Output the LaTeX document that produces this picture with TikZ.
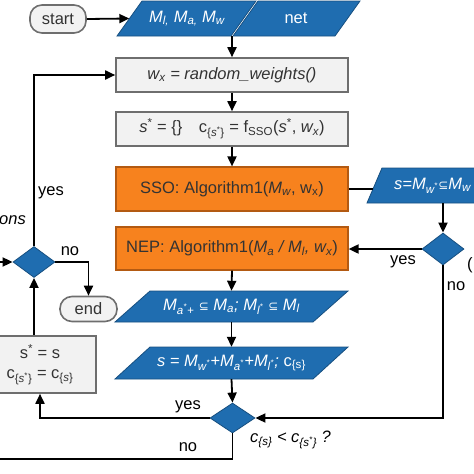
\documentclass[tikz,border=0pt]{standalone}
\usepackage{fontspec}
\setmainfont{Liberation Sans}
\newfontfamily\symf{DejaVu Sans}
\usetikzlibrary{arrows.meta,shapes.geometric}
\definecolor{blu}{HTML}{1F6DB0}
\definecolor{bluD}{HTML}{174F80}
\definecolor{org}{HTML}{F7821E}
\definecolor{orgD}{HTML}{B35A12}
\definecolor{gfill}{HTML}{F2F2F2}
\definecolor{gline}{HTML}{6E6E6E}
\definecolor{txt}{HTML}{333333}
\newcommand\sbx[1]{\textsubscript{#1}}
\newcommand\spx[1]{\textsuperscript{#1}}
\newcommand\subeq{{\symf\fontsize{12}{14}\selectfont ⊆}}
\tikzset{
  graybox/.style={rectangle, draw=gline, fill=gfill, line width=1.6pt, text=txt, inner sep=0pt},
  orangebox/.style={rectangle, draw=orgD, fill=org, line width=1.2pt, text=txt, inner sep=0pt},
  pill/.style={rectangle, rounded corners=12pt, draw=gline, fill=gfill, line width=1.6pt, text=txt, inner sep=0pt},
  pshape/.style={fill=blu, draw=bluD, line width=0.8pt},
  ptext/.style={rectangle, text=white, inner sep=0pt},
  dia/.style={diamond, fill=blu, draw=bluD, line width=0.8pt, inner sep=0pt},
  lbl/.style={text=black, inner sep=0pt},
  arr/.style={line width=1.8pt, -{Triangle[length=10pt,width=9pt]}},
  ln/.style={line width=1.8pt},
}
\begin{document}
\begin{tikzpicture}[x=1pt,y=-1pt,font=\fontsize{16.5}{20}\selectfont]
\useasboundingbox (0,0) rectangle (474,474);
% top parallelograms
\filldraw[pshape] (117,36) -- (231,36) -- (256,1) -- (142,1) -- cycle;
\filldraw[pshape] (233,36) -- (335,36) -- (360,1) -- (258,1) -- cycle;
\node[ptext, minimum width=115pt, minimum height=35pt] (p1) at (187,18.5) {\textit{M\sbx{l,} M\sbx{a,} M\sbx{w}}};
\node[ptext] (p2) at (296,18.5) {net};
\coordinate (pj) at (232,36);
\node[pill, minimum width=56pt, minimum height=28pt] (start) at (58,19) {start};
% boxes
\node[graybox, minimum width=232pt, minimum height=34pt] (wx) at (232,75) {\textit{w\sbx{x} = random\_weights()}};
\node[graybox, minimum width=232pt, minimum height=34pt] (init) at (232,129) {\textit{s}\spx{*} = \{\}\quad c\sbx{\{\textit{s}\spx{*}\}} = f\sbx{SSO}(\textit{s}\spx{*}, \textit{w\sbx{x}})};
\node[orangebox, minimum width=232pt, minimum height=44pt] (sso) at (232,189) {SSO: Algorithm1(\textit{M\sbx{w}}, w\sbx{x})};
\node[orangebox, minimum width=232pt, minimum height=43pt] (nep) at (232,248.5) {NEP: Algorithm1(\textit{M\sbx{a} / M\sbx{l}, w\sbx{x}})};
% lower parallelograms
\filldraw[pshape] (115,322) -- (313,322) -- (348,291) -- (150,291) -- cycle;
\node[ptext, minimum width=198pt, minimum height=31pt] (p3) at (231.5,306.5) {\textit{M\sbx{a\spx{*}+}} \subeq{} \textit{M\sbx{a}; M\sbx{l\spx{*}}} \subeq{} \textit{M\sbx{l}}};
\filldraw[pshape] (115,379) -- (313,379) -- (348,347) -- (150,347) -- cycle;
\node[ptext, minimum width=198pt, minimum height=32pt] (p4) at (231.5,363) {\textit{s = M\sbx{w\spx{*}}+M\sbx{a\spx{*}}+M\sbx{l\spx{*}};} c\sbx{\{s\}}};
% right parallelogram (cut by page edge)
\filldraw[pshape] (367,203) -- (540,203) -- (555,168) -- (382,168) -- cycle;
\node[ptext, anchor=west] (p5) at (394,185.5) {\textit{s=M\sbx{w\spx{*}}}\subeq\textit{M\sbx{w}}};
\coordinate (p5w) at (373,189);
\coordinate (p5s) at (443,203);
% diamonds
\node[dia, minimum width=42pt, minimum height=32pt] (d1) at (443,249) {};
\node[dia, minimum width=45pt, minimum height=30pt] (d2) at (232.5,418) {};
\node[dia, minimum width=42pt, minimum height=31pt] (d3) at (34,262) {};
% end and result box
\node[pill, minimum width=57pt, minimum height=25pt] (end) at (88.5,309) {end};
\node[graybox, minimum width=112pt, minimum height=57pt, align=center] (res) at (40,364.5) {s\spx{*} = s\\c\sbx{\{\textit{s}\spx{*}\}} = c\sbx{\{\textit{s}\}}};
\coordinate (lin) at (0,262);
\coordinate (lout) at (0,459);
% connectors
\draw[arr] (start.east) -- (p1.west);
\draw[arr] (pj) -- (wx.north);
\draw[arr] (wx.south) -- (init.north);
\draw[arr] (init.south) -- (sso.north);
\draw[ln] (sso.east) -- (p5w);
\draw[arr] (p5s) -- (d1.north);
\draw[arr] (d1.west) -- (nep.east |- d1.west);
\draw[arr] (d1.south) |- (d2.east);
\draw[arr] (nep.south) -- (p3.north);
\draw[arr] (p3.south) -- (p4.north);
\draw[arr] (p4.south) -- (d2.north);
\draw[arr] (d2.west) -| (res.south);
\draw[ln] (d2.south) |- (lout);
\draw[arr] (d3.south |- res.north) -- (d3.south);
\draw[arr] (d3.north) |- (wx.west);
\draw[arr] (d3.east) -| (end.north);
\draw[arr] (lin) -- (d3.west);
% labels
\node[lbl] (l1) at (51,193) {yes};
\node[lbl, anchor=east] (l2) at (26,220) {\textit{ons}};
\node[lbl] (l3) at (70,251) {no};
\node[lbl] (l4) at (403,262) {yes};
\node[lbl] (l5) at (456,286) {no};
\node[lbl, anchor=west] (l6) at (467,265) {(};
\node[lbl] (l7) at (188,407) {yes};
\node[lbl] (l8) at (188,447) {no};
\node[lbl, anchor=west] (l9) at (250,440) {\textit{c\sbx{\{s\}} < c\sbx{\{s\spx{*}\}} ?}};
\end{tikzpicture}
\end{document}
